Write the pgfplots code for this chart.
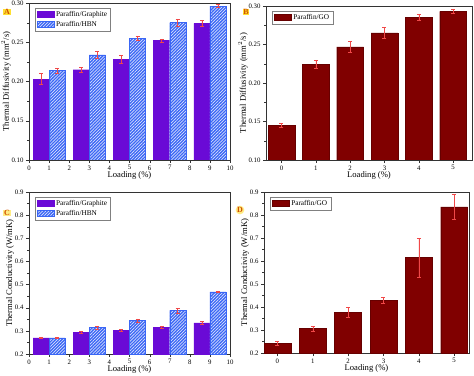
\documentclass[border=0pt]{standalone}
\usepackage{pgfplots}
\pgfplotsset{compat=1.18}
\usepackage{fontspec}
\setmainfont{Liberation Serif}
\usetikzlibrary{patterns.meta}
\definecolor{graph}{HTML}{6A0AD6}
\definecolor{hbn}{HTML}{3A66F5}
\definecolor{go}{HTML}{800000}
\definecolor{errc}{HTML}{F04848}
\definecolor{lblc}{HTML}{D05000}
\definecolor{lblbg}{HTML}{FFE030}
\pgfplotsset{
  panel/.style={
    scale only axis, anchor=south west,
    /pgf/number format/assume math mode=true,
    tick label style={font=\fontsize{6.8}{7}\selectfont},
    xticklabel style={yshift=1pt},
    yticklabel style={xshift=1pt},
    label style={font=\fontsize{8.6}{9}\selectfont},
    xtick pos=bottom, ytick pos=left, tick align=outside,
    major tick length=3pt, minor tick length=1.8pt,
    minor y tick num=1,
    axis line style={black!80}, tick style={black!80},
    xlabel={Loading (\%)},
    xlabel style={yshift=5pt},
    ylabel style={yshift=-6pt},
    legend style={font=\fontsize{7.3}{8}\selectfont, draw=black!50, inner sep=1.5pt, row sep=-1pt,
      at={(0.03,0.97)}, anchor=north west},
    legend cell align=left,
    legend image code/.code={\draw[#1] (0pt,-2.8pt) rectangle (17pt,3.2pt);},
  },
  errstyle/.style={error bars/.cd, y dir=both, y explicit,
      error bar style={errc, line width=0.5pt},
      error mark options={errc, mark size=2pt, rotate=90, line width=0.5pt}},
  gbar/.style={ybar, bar shift=0pt, fill=graph, draw=graph, errstyle},
  hbar/.style={ybar, bar shift=0pt, fill=hbn, draw=hbn,
      postaction={pattern={Lines[angle=45,distance=2.2pt,line width=0.7pt]}, pattern color=white!80!hbn}, errstyle},
  obar/.style={ybar, bar shift=0pt, fill=go, draw=go!80!black, errstyle},
}
\pgfplotstableread{
x    y      e
0.6  0.203  0.007
2.6  0.215  0.003
4.6  0.228  0.005
6.6  0.252  0.002
8.6  0.274  0.004
}\Ag
\pgfplotstableread{
x    y      e
1.4  0.214  0.003
3.4  0.234  0.004
5.4  0.255  0.003
7.4  0.275  0.004
9.4  0.296  0.002
}\Ah
\pgfplotstableread{
x  y      e
0  0.145  0.003
1  0.224  0.005
2  0.247  0.007
3  0.265  0.007
4  0.285  0.004
5  0.293  0.003
}\Bgo
\pgfplotstableread{
x    y      e
0.6  0.270  0.004
2.6  0.293  0.005
4.6  0.302  0.003
6.6  0.315  0.003
8.6  0.335  0.005
}\Cg
\pgfplotstableread{
x    y      e
1.4  0.270  0.002
3.4  0.315  0.006
5.4  0.345  0.007
7.4  0.388  0.010
9.4  0.468  0.003
}\Ch
\pgfplotstableread{
x  y      e
0  0.242  0.010
1  0.306  0.010
2  0.377  0.022
3  0.430  0.013
4  0.615  0.085
5  0.835  0.055
}\Dgo
\begin{document}
\begin{tikzpicture}
\path[use as bounding box] (0pt,0pt) rectangle (474pt,375pt);
% Panel A
\begin{axis}[panel, at={(29pt,215pt)}, width=201pt, height=157pt,
  xmin=0, xmax=10, ymin=0.10, ymax=0.30, xtick={0,...,10},
  ytick={0.10,0.15,...,0.31},
  yticklabel style={/pgf/number format/.cd, fixed, fixed zerofill, precision=2},
  ylabel={Thermal Diffusivity (mm$^{2}$/s)}, bar width=0.8]
\addplot[gbar] table[x=x,y=y,y error=e]{\Ag};
\addplot[hbar] table[x=x,y=y,y error=e]{\Ah};
\legend{Paraffin/Graphite, Paraffin/HBN}
\end{axis}
% Panel B
\begin{axis}[panel, at={(266pt,215pt)}, width=206pt, height=154pt,
  xmin=-0.45, xmax=5.55, ymin=0.10, ymax=0.30, xtick={0,...,5},
  ytick={0.10,0.15,...,0.31},
  yticklabel style={/pgf/number format/.cd, fixed, fixed zerofill, precision=2},
  ylabel={Thermal Diffusivity (mm$^{2}$/s)}, bar width=0.78]
\addplot[obar] table[x=x,y=y,y error=e]{\Bgo};
\legend{Paraffin/GO}
\end{axis}
% Panel C
\begin{axis}[panel, at={(29pt,21pt)}, width=201pt, height=162pt,
  xmin=0, xmax=10, ymin=0.2, ymax=0.9, xtick={0,...,10},
  ytick={0.2,0.3,...,0.91},
  yticklabel style={/pgf/number format/.cd, fixed, fixed zerofill, precision=1},
  ylabel={Thermal Conductivity (W/mK)}, bar width=0.8]
\addplot[gbar] table[x=x,y=y,y error=e]{\Cg};
\addplot[hbar] table[x=x,y=y,y error=e]{\Ch};
\legend{Paraffin/Graphite, Paraffin/HBN}
\end{axis}
% Panel D
\begin{axis}[panel, at={(264pt,22pt)}, width=205pt, height=161pt,
  xmin=-0.38, xmax=5.42, ymin=0.2, ymax=0.9, xtick={0,...,5},
  ytick={0.2,0.3,...,0.91},
  yticklabel style={/pgf/number format/.cd, fixed, fixed zerofill, precision=1},
  ylabel={Thermal Conductivity (W/mK)}, bar width=0.76]
\addplot[obar] table[x=x,y=y,y error=e]{\Dgo};
\legend{Paraffin/GO}
\end{axis}
\node[fill=lblbg, text=lblc, inner sep=0.8pt, font=\fontsize{8}{8}\selectfont\bfseries] at (7pt,363pt) {A};
\node[fill=lblbg, text=lblc, inner sep=0.8pt, font=\fontsize{8}{8}\selectfont\bfseries] at (246pt,363pt) {B};
\node[fill=lblbg!60!white, text=lblc, inner sep=0.8pt, font=\fontsize{8}{8}\selectfont\bfseries] at (7pt,162pt) {C};
\node[fill=lblbg!60!white, text=lblc, circle, inner sep=0.3pt, font=\fontsize{8}{8}\selectfont\bfseries] at (240pt,165pt) {D};
\end{tikzpicture}
\end{document}
